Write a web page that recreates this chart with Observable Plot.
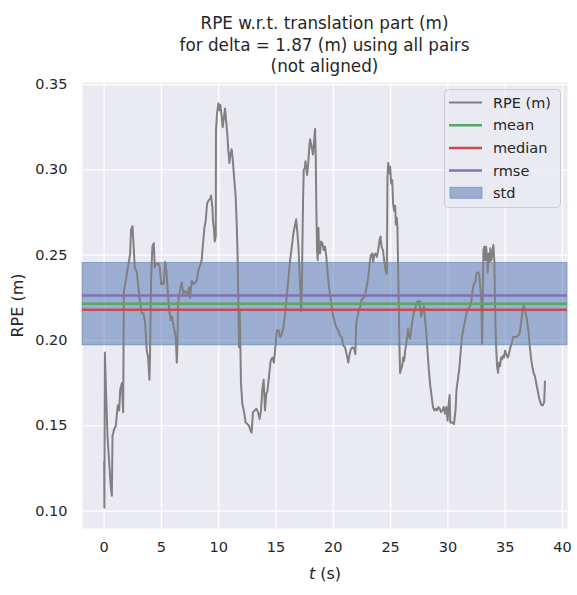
<!DOCTYPE html>
<html>
<head>
<meta charset="utf-8">
<script src="https://cdn.jsdelivr.net/npm/d3@7"></script>
<script src="https://cdn.jsdelivr.net/npm/@observablehq/plot@0.6"></script>
<style>
  body { margin: 0; background: white; font-family: "DejaVu Sans", sans-serif; color: #262626; }
  #title { position: relative; z-index: 1; box-sizing: border-box; height: 74px; padding-top: 13px; margin-left: 82px; width: 485px;
           text-align: center; font-size: 16.8px; line-height: 21.5px; white-space: nowrap; }
  #chart { position: relative; width: 577px; }
  #legend { position: absolute; left: 444px; top: 15px; }
</style>
</head>
<body>
<div id="title">RPE w.r.t. translation part (m)<br>for delta = 1.87 (m) using all pairs<br>(not aligned)</div>
<div id="chart"></div>
<script>
// timestamps (s) and RPE (m)
const times = [0.00,0.02,0.06,0.29,0.58,0.67,0.73,0.87,1.02,1.10,1.19,1.31,1.40,1.54,1.66,1.72,1.89,2.03,2.18,2.27,2.35,2.47,2.56,2.67,2.85,2.99,3.14,3.28,3.43,3.58,3.72,3.84,3.95,4.00,4.10,4.21,4.33,4.42,4.51,4.74,4.85,4.97,5.09,5.20,5.32,5.44,5.55,5.67,5.81,5.93,6.02,6.13,6.25,6.34,6.40,6.45,6.60,6.77,6.92,7.06,
  7.27,7.41,7.50,7.64,7.79,7.93,8.08,8.22,8.37,8.51,8.63,8.75,8.86,8.98,9.10,9.24,9.33,9.44,9.50,9.59,9.65,9.74,9.76,9.85,9.97,10.06,10.14,10.26,10.35,10.46,10.55,10.64,10.75,10.84,10.93,11.01,11.13,11.25,11.36,11.48,11.57,11.65,11.71,11.77,11.83,11.89,11.94,12.06,12.21,12.35,12.50,12.64,12.79,12.87,12.99,13.14,13.28,13.43,13.57,13.69,13.80,13.92,14.04,14.15,14.24,14.39,14.53,14.68,14.82,14.97,
  15.08,15.22,15.36,15.51,15.65,15.80,15.94,16.09,16.23,16.38,16.52,16.67,16.76,16.84,16.96,17.05,17.13,17.19,17.25,17.31,17.36,17.42,17.51,17.57,17.65,17.71,17.80,17.89,17.97,18.06,18.15,18.23,18.32,18.41,18.47,18.52,18.58,18.64,18.70,18.76,18.84,18.93,19.05,19.16,19.28,19.39,19.51,19.63,19.74,19.86,20.00,20.15,20.29,20.44,20.58,20.73,20.87,21.02,21.16,21.31,21.42,21.54,21.68,21.83,21.92,22.00,22.12,22.24,22.35,22.47,22.64,22.76,
  22.90,23.05,23.17,23.28,23.40,23.48,23.57,23.69,23.80,23.92,24.04,24.12,24.21,24.33,24.44,24.56,24.67,24.73,24.79,24.88,24.96,25.05,25.14,25.22,25.31,25.40,25.46,25.54,25.60,25.66,25.72,25.77,25.83,25.92,26.01,26.10,26.18,26.27,26.36,26.44,26.53,26.62,26.70,26.79,26.91,27.02,27.14,27.25,27.37,27.46,27.54,27.66,27.75,27.83,27.92,28.01,28.12,28.24,28.36,28.47,28.59,28.70,28.82,28.94,29.05,29.17,29.28,29.40,29.51,29.63,29.75,29.86,29.98,30.07,30.15,30.21,30.36,30.53,
  30.67,30.75,30.87,30.99,31.10,31.22,31.33,31.45,31.57,31.68,31.80,31.91,32.03,32.15,32.26,32.38,32.49,32.61,32.73,32.81,32.90,32.99,33.04,33.10,33.19,33.25,33.33,33.42,33.48,33.57,33.65,33.71,33.80,33.88,33.97,34.06,34.12,34.20,34.29,34.38,34.46,34.55,34.64,34.73,34.81,34.90,34.99,35.10,35.22,35.33,35.45,35.57,35.68,35.80,35.97,36.15,36.26,36.38,36.49,36.58,36.67,36.78,36.90,37.02,37.13,37.25,37.36,37.48,37.60,37.71,37.83,37.94,38.06,38.18,38.29,38.41,38.47];
const rpe = [0.129,0.102,0.193,0.144,0.114,0.109,0.144,0.148,0.150,0.156,0.162,0.159,0.171,0.175,0.158,0.229,0.235,0.241,0.247,0.251,0.265,0.267,0.257,0.243,0.240,0.231,0.222,0.216,0.216,0.210,0.194,0.190,0.177,0.190,0.237,0.255,0.257,0.243,0.245,0.245,0.243,0.233,0.234,0.233,0.246,0.240,0.229,0.218,0.212,0.214,0.210,0.206,0.202,0.187,0.198,0.222,0.229,0.234,0.227,0.229,
  0.227,0.231,0.225,0.235,0.233,0.234,0.235,0.241,0.244,0.247,0.257,0.266,0.270,0.280,0.282,0.283,0.285,0.278,0.270,0.265,0.258,0.261,0.323,0.333,0.339,0.335,0.338,0.331,0.325,0.331,0.336,0.329,0.321,0.311,0.304,0.309,0.312,0.304,0.294,0.284,0.268,0.249,0.222,0.196,0.218,0.196,0.175,0.163,0.158,0.152,0.151,0.150,0.147,0.146,0.158,0.159,0.160,0.158,0.154,0.159,0.171,0.177,0.159,0.169,0.170,0.179,0.188,0.190,0.187,0.198,
  0.206,0.206,0.202,0.204,0.208,0.216,0.226,0.237,0.247,0.255,0.263,0.268,0.271,0.265,0.255,0.239,0.229,0.217,0.229,0.259,0.282,0.300,0.301,0.305,0.301,0.297,0.303,0.312,0.318,0.315,0.312,0.309,0.317,0.324,0.307,0.278,0.253,0.247,0.266,0.253,0.251,0.258,0.257,0.253,0.255,0.249,0.239,0.231,0.226,0.220,0.214,0.210,0.207,0.206,0.203,0.202,0.197,0.196,0.192,0.187,0.192,0.195,0.196,0.195,0.192,0.210,0.214,0.218,0.220,0.224,0.225,0.226,
  0.231,0.237,0.245,0.250,0.251,0.246,0.250,0.251,0.249,0.253,0.259,0.261,0.255,0.253,0.247,0.241,0.239,0.296,0.304,0.298,0.302,0.292,0.294,0.280,0.276,0.279,0.268,0.272,0.266,0.241,0.220,0.198,0.181,0.183,0.185,0.190,0.188,0.194,0.198,0.202,0.207,0.202,0.201,0.206,0.212,0.216,0.218,0.222,0.223,0.221,0.223,0.214,0.216,0.218,0.220,0.212,0.204,0.192,0.181,0.173,0.167,0.161,0.159,0.160,0.159,0.161,0.160,0.158,0.159,0.161,0.157,0.161,0.153,0.163,0.168,0.152,0.152,0.151,
  0.159,0.171,0.177,0.183,0.192,0.202,0.206,0.210,0.214,0.218,0.219,0.220,0.222,0.229,0.233,0.234,0.239,0.240,0.239,0.233,0.225,0.198,0.220,0.253,0.255,0.247,0.255,0.249,0.240,0.251,0.246,0.254,0.247,0.251,0.256,0.246,0.218,0.198,0.185,0.181,0.187,0.185,0.190,0.189,0.191,0.190,0.194,0.192,0.190,0.192,0.196,0.198,0.202,0.202,0.202,0.203,0.204,0.210,0.216,0.220,0.220,0.216,0.212,0.206,0.198,0.190,0.185,0.181,0.179,0.175,0.171,0.167,0.164,0.162,0.162,0.164,0.176];

// statistics
const statNames = ["mean", "median", "rmse"];
const statValues = [0.2215, 0.2180, 0.2263];
const statColors = ["#55A868", "#C44E52", "#8172B2"];
const stdValue = 0.0241;

const xTicks = [0, 5, 10, 15, 20, 25, 30, 35, 40];
const yTicks = [0.10, 0.15, 0.20, 0.25, 0.30, 0.35];

const series = times.map((t, i) => ({t, v: rpe[i]}));
const stats = statNames.map((name, i) => ({name, value: statValues[i], color: statColors[i]}));
const band = [{lo: 0.2213 - stdValue, hi: 0.2213 + stdValue}];

const chart = Plot.plot({
  width: 577,
  height: 521,
  marginTop: 8,
  marginBottom: 67,
  marginLeft: 82,
  marginRight: 10,
  style: {fontFamily: "DejaVu Sans", fontSize: "14.5px", color: "#262626", background: "none", overflow: "visible"},
  x: {domain: [-1.89, 40.44]},
  y: {domain: [0.0898, 0.3512]},
  marks: [
    Plot.frame({fill: "#EAEAF2", stroke: "none"}),
    Plot.gridX(xTicks, {stroke: "white", strokeOpacity: 1, strokeWidth: 1.3}),
    Plot.gridY(yTicks, {stroke: "white", strokeOpacity: 1, strokeWidth: 1.3}),
    Plot.rect(band, {y1: "lo", y2: "hi", fill: "#4C72B0", fillOpacity: 0.5, stroke: "#4C72B0", strokeOpacity: 0.5}),
    Plot.line(series, {x: "t", y: "v", stroke: "gray", strokeWidth: 2}),
    Plot.ruleY(stats, {y: "value", stroke: "color", strokeWidth: 2.5}),
    Plot.axisX(xTicks, {tickSize: 0, tickPadding: 13, label: "t (s)", labelAnchor: "center", labelArrow: "none", labelOffset: 50}),
    Plot.axisY(yTicks, {tickSize: 0, tickPadding: 15, tickFormat: ".2f", label: "RPE (m)", labelAnchor: "center", labelArrow: "none", labelOffset: 71})
  ]
});

const root = d3.select("#chart").append(() => chart);

// axis titles: bigger, and t in italics
root.selectAll('g[aria-label="x-axis label"] text, g[aria-label="y-axis label"] text').attr("font-size", "16px");
root.select('g[aria-label="x-axis label"] text').html('<tspan font-style="italic">t</tspan> (s)');

// legend
const legendItems = [{name: "RPE (m)", color: "gray", kind: "line"}]
  .concat(stats.map(s => ({name: s.name, color: s.color, kind: "line"})))
  .concat([{name: "std", color: "#4C72B0", kind: "patch"}]);

const lg = d3.select("#chart").append("svg").attr("id", "legend").attr("width", 117).attr("height", 119);
lg.append("rect").attr("x", 0.5).attr("y", 0.5).attr("width", 116).attr("height", 118).attr("rx", 4)
  .attr("fill", "#EAEAF2").attr("fill-opacity", 0.8).attr("stroke", "#cccccc");
legendItems.forEach((d, i) => {
  const cy = 13.5 + i * 22.7;
  if (d.kind === "line") {
    lg.append("line").attr("x1", 5).attr("x2", 38).attr("y1", cy).attr("y2", cy)
      .attr("stroke", d.color).attr("stroke-width", d.name === "RPE (m)" ? 2 : 2.5);
  } else {
    lg.append("rect").attr("x", 6).attr("y", cy - 6).attr("width", 32).attr("height", 11)
      .attr("fill", d.color).attr("fill-opacity", 0.5).attr("stroke", d.color).attr("stroke-opacity", 0.5);
  }
  lg.append("text").attr("x", 49).attr("y", cy).attr("dy", "0.35em")
    .attr("font-family", "DejaVu Sans").attr("font-size", "14.5px").attr("fill", "#262626").text(d.name);
});
</script>
</body>
</html>
